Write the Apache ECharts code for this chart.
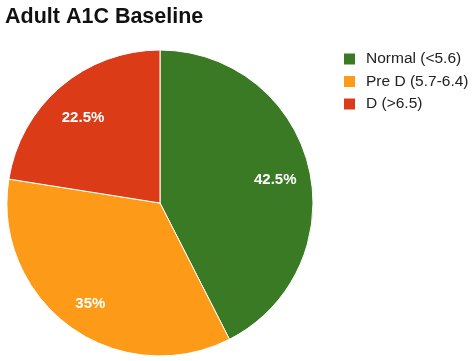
<!DOCTYPE html>
<html>
<head>
<meta charset="utf-8">
<script src="https://cdn.jsdelivr.net/npm/echarts@6/dist/echarts.min.js"></script>
<style>html,body{margin:0;padding:0;background:#fff;}#c{width:474px;height:361px;}</style>
</head>
<body>
<div id="c"></div>
<script>
const categories = ['Normal (<5.6)', 'Pre D (5.7-6.4)', 'D (>6.5)'];
const values = [42.5, 35, 22.5];
const colors = ['#3b7a24', '#fd9a17', '#dc3b18'];

const data = categories.map((name, i) => ({ name, value: values[i], itemStyle: { color: colors[i] } }));

const chart = echarts.init(document.getElementById('c'));
chart.setOption({
  animation: false,
  title: {
    text: 'Adult A1C Baseline',
    left: 0, top: 1,
    textStyle: { fontFamily: 'Liberation Sans, Arial, sans-serif', fontSize: 21.5, fontWeight: 'bold', color: '#111' }
  },
  legend: {
    orient: 'vertical',
    left: 337, top: 46,
    icon: 'rect',
    itemWidth: 13, itemHeight: 13,
    itemGap: 6.5,
    data: categories,
    textStyle: { fontFamily: 'Liberation Sans, Arial, sans-serif', fontSize: 15.5, lineHeight: 16, color: '#222', padding: [0, 0, 0, 5] }
  },
  series: [
    {
      type: 'pie',
      center: [160, 203],
      radius: [0, 153],
      startAngle: 90,
      clockwise: true,
      label: { show: false },
      labelLine: { show: false },
      itemStyle: { borderColor: '#fff', borderWidth: 1 },
      emphasis: { disabled: true },
      data: data
    },
    {
      type: 'pie',
      center: [160, 203],
      radius: [78, 153],
      startAngle: 90,
      clockwise: true,
      silent: true,
      legendHoverLink: false,
      itemStyle: { color: 'transparent', borderWidth: 0 },
      label: {
        show: true,
        position: 'inside',
        offset: [0, 5],
        formatter: p => p.value + '%',
        color: '#fff',
        fontFamily: 'Liberation Sans, Arial, sans-serif',
        fontSize: 15,
        fontWeight: 'bold'
      },
      labelLine: { show: false },
      emphasis: { disabled: true },
      data: categories.map((name, i) => ({ name: name + ' ', value: values[i] }))
    }
  ]
});
</script>
</body>
</html>
